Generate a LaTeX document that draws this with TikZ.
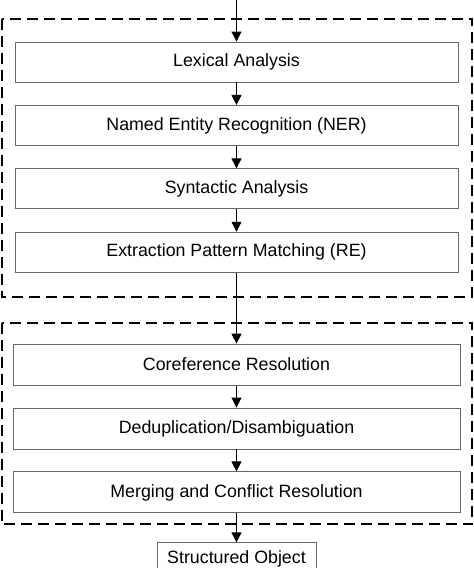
\documentclass[tikz,border=0pt]{standalone}
\usepackage{fontspec}
\setmainfont{Liberation Sans}
\usetikzlibrary{arrows.meta, calc, positioning}

\begin{document}
\begin{tikzpicture}[->,>={Triangle[width=10pt,length=10pt]},x=1pt,y=1pt,node distance=22.5pt,line width=0.9pt]
	\tikzset{stage/.style={draw=black!60, minimum width=443pt, minimum height=40pt, inner sep=0pt, font=\fontsize{17.8}{21}\selectfont},
		wide/.style={minimum width=447pt, minimum height=41pt},
		group/.style={-, draw=black, line width=2pt, dash pattern=on 11pt off 6pt}}
	\useasboundingbox (0,0) rectangle (474,-568);
	\coordinate (in) at (236.5,0);
	\node[stage] (lex) at (236.5,-62) {Lexical Analysis};
	\node[stage] (ner) [below=of lex] {Named Entity Recognition (NER)};
	\node[stage] (syn) [below=of ner] {Syntactic Analysis};
	\node[stage] (ere) [below=of syn] {Extraction Pattern Matching (RE)};
	\node[stage, wide] (coref) [below=71pt of ere] {Coreference Resolution};
	\node[stage, wide] (dedup) [below=22pt of coref] {Deduplication/Disambiguation};
	\node[stage, wide] (merge) [below=22pt of dedup] {Merging and Conflict Resolution};
	\node[stage, minimum width=159pt, minimum height=33pt] (obj) [below=29pt of merge] {Structured Object};
	% dashed frames
	\draw[group] ($(lex.north west)+(-13,23)$) rectangle ($(ere.south east)+(14,-24)$);
	\draw[group] ($(coref.north west)+(-11,21)$) rectangle ($(merge.south east)+(12,-11)$);
	\path
		(in)
			edge (lex)
		(lex)
			edge (ner)
		(ner)
			edge (syn)
		(syn)
			edge (ere)
		(ere)
			edge (coref)
		(coref)
			edge (dedup)
		(dedup)
			edge (merge)
		(merge)
			edge (obj);
\end{tikzpicture}
\end{document}
